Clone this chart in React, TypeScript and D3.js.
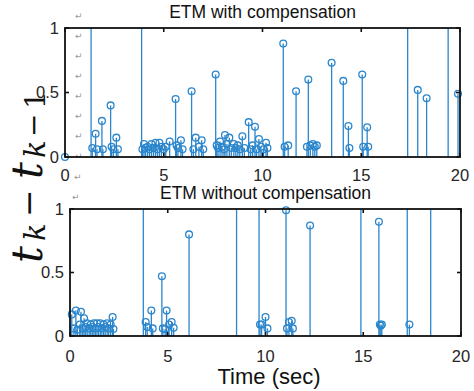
import React from 'react'
import * as d3 from 'd3'

// ETM with compensation: event times (sec) and inter-event intervals
const withT = [0, 1.32, 1.38, 1.55, 1.62, 1.87, 1.92, 2.31, 2.36, 2.45, 2.6, 2.68,
  3.88, 3.92, 4.0, 4.08, 4.18, 4.28, 4.38, 4.48, 4.58, 4.68, 4.78, 4.88, 5.0, 5.1, 5.3,
  5.6, 5.65, 5.72, 5.87, 5.95, 6.41, 6.5, 6.62, 6.78, 6.92, 7.0,
  7.63, 7.68, 7.75, 7.85, 7.95, 8.05, 8.1, 8.2, 8.32, 8.42, 8.55, 8.65, 8.75, 8.85, 8.98,
  9.08, 9.3, 9.4, 9.5, 9.62, 9.7, 9.82, 9.92, 10.05, 10.18, 10.25,
  11.05, 11.12, 11.3, 11.7, 12.25, 12.32, 12.42, 12.55, 12.65, 12.75,
  13.5, 14.09, 14.35, 14.4, 15.05, 15.1, 15.3, 15.35, 17.35, 17.86, 18.31, 19.4, 19.9]
const withV = [0, 1.6, 0.07, 0.18, 0.06, 0.28, 0.06, 0.4, 0.08, 0.06, 0.15, 0.06,
  1.4, 0.06, 0.1, 0.07, 0.08, 0.06, 0.1, 0.07, 0.11, 0.06, 0.11, 0.08, 0.06, 0.08, 0.12,
  0.45, 0.09, 0.07, 0.13, 0.06, 0.51, 0.06, 0.15, 0.08, 0.13, 0.06,
  0.64, 0.09, 0.07, 0.12, 0.08, 0.06, 0.17, 0.1, 0.15, 0.07, 0.1, 0.07, 0.09, 0.06, 0.16,
  0.07, 0.27, 0.06, 0.09, 0.235, 0.06, 0.14, 0.08, 0.06, 0.11, 0.07,
  0.88, 0.08, 0.09, 0.51, 0.08, 0.6, 0.09, 0.1, 0.08, 0.09,
  0.73, 0.59, 0.24, 0.07, 0.64, 0.08, 0.23, 0.08, 1.5, 0.52, 0.455, 1.5, 0.49]

// ETM without compensation
const withoutT = [0.09, 0.2, 0.3, 0.38, 0.5, 0.56, 0.65, 0.72, 0.8, 0.88, 0.98, 1.06,
  1.14, 1.22, 1.3, 1.38, 1.46, 1.55, 1.63, 1.72, 1.8, 1.9, 1.98, 2.08, 2.18, 2.22,
  3.75, 3.87, 3.95, 4.16, 4.23, 4.7, 4.75, 4.87, 4.94, 5.07, 5.2, 5.3, 6.09,
  8.52, 9.67, 9.72, 9.8, 10.0, 10.1, 11.05, 11.1, 11.2, 11.34, 11.4, 12.28,
  14.88, 15.8, 15.85, 15.9, 15.95, 17.25, 17.36, 18.45]
const withoutV = [0.17, 0.06, 0.2, 0.05, 0.09, 0.19, 0.06, 0.14, 0.07, 0.1, 0.06, 0.09,
  0.07, 0.1, 0.06, 0.1, 0.07, 0.1, 0.06, 0.09, 0.07, 0.1, 0.06, 0.09, 0.15, 0.055,
  1.5, 0.11, 0.07, 0.2, 0.06, 0.47, 0.06, 0.055, 0.2, 0.09, 0.11, 0.065, 0.8,
  1.5, 1.5, 0.09, 0.09, 0.15, 0.06, 0.99, 0.06, 0.11, 0.12, 0.06, 0.87,
  1.5, 0.9, 0.09, 0.08, 0.09, 1.5, 0.09, 1.5]

const xTicks = [0, 5, 10, 15, 20]
const yTicks = [0, 0.5, 1]
const yTickLabels = ['0', '0.5', '1']

const stemColor = '#2b86cc'
const font = 'Liberation Sans, Arial, sans-serif'
const mathFont = 'DejaVu Serif, serif'

type PanelProps = {
  title: string
  ts: number[]
  vs: number[]
  left: number
  right: number
  top: number
  bottom: number
  tickY: number
}

function Panel({ title, ts, vs, left, right, top, bottom, tickY }: PanelProps) {
  const x = d3.scaleLinear().domain([0, 20]).range([left, right])
  const y = d3.scaleLinear().domain([0, 1]).range([bottom, top])
  const tl = 4
  return (
    <g>
      <text x={(left + right) / 2} y={top - 10} textAnchor="middle" fontSize={17.5}
        fontFamily={font} fill="#111">{title}</text>
      {ts.map((t, i) => (
        <line key={'s' + i} x1={x(t)} x2={x(t)} y1={y(0)} y2={y(Math.min(vs[i], 1))}
          stroke={stemColor} strokeWidth={1.3} />
      ))}
      {ts.map((t, i) => vs[i] <= 1 ? (
        <circle key={'m' + i} cx={x(t)} cy={y(vs[i])} r={3.4} fill="none"
          stroke={stemColor} strokeWidth={1.3} />
      ) : null)}
      <rect x={left} y={top} width={right - left} height={bottom - top} fill="none"
        stroke="#111" strokeWidth={1.8} />
      {xTicks.map((t) => (
        <g key={'x' + t}>
          <line x1={x(t)} x2={x(t)} y1={top} y2={top + tl} stroke="#111" strokeWidth={1.6} />
          <line x1={x(t)} x2={x(t)} y1={bottom} y2={bottom - tl} stroke="#111" strokeWidth={1.6} />
          <text x={x(t)} y={tickY} textAnchor="middle" fontSize={16.5} fontFamily={font}
            fill="#262626">{t}</text>
        </g>
      ))}
      {yTicks.map((v, i) => (
        <g key={'y' + v}>
          <line x1={left} x2={left + tl} y1={y(v)} y2={y(v)} stroke="#111" strokeWidth={1.6} />
          <line x1={right} x2={right - tl} y1={y(v)} y2={y(v)} stroke="#111" strokeWidth={1.6} />
          <text x={left - 6} y={y(v)} dy="0.35em" textAnchor="end" fontSize={16.5}
            fontFamily={font} fill="#262626">{yTickLabels[i]}</text>
        </g>
      ))}
    </g>
  )
}

// y label t_k - t_{k-1}, drawn piece by piece along the rotated axis
function YLabel() {
  return (
    <g transform="translate(42,263) rotate(-90)" fill="#111" fontFamily={mathFont}>
      <text x={0} y={0} fontSize={42} fontStyle="italic">t</text>
      <text x={22} y={3} fontSize={29} fontStyle="italic">k</text>
      <text x={46} y={-2} fontSize={33}>−</text>
      <text x={84} y={0} fontSize={42} fontStyle="italic">t</text>
      <text x={105} y={3} fontSize={29} fontStyle="italic">k</text>
      <text x={126} y={1} fontSize={28}>−</text>
      <text x={154} y={3} fontSize={28}>1</text>
    </g>
  )
}

export default function App() {
  const returnMarks = d3.range(8).map((i) => 15 + i * 20)
  return (
    <svg width={474} height={391} style={{ position: 'absolute', left: 0, top: 0, background: '#fff' }}>
      <rect width={474} height={391} fill="#fff" />
      {returnMarks.map((yy) => (
        <text key={yy} x={75} y={yy + 4} fontSize={9} fontFamily="DejaVu Sans" fill="#999">↵</text>
      ))}
      <text x={74} y={180} fontSize={9} fontFamily="DejaVu Sans" fill="#999">↵</text>
      <text x={72} y={200} fontSize={9} fontFamily="DejaVu Sans" fill="#999">↵</text>
      <Panel title="ETM with compensation" ts={withT} vs={withV}
        left={65} right={460} top={28} bottom={157} tickY={181} />
      <Panel title="ETM without compensation" ts={withoutT} vs={withoutV}
        left={70} right={461} top={209} bottom={336} tickY={362} />
      <YLabel />
      <text x={269} y={384} textAnchor="middle" fontSize={22} fontFamily={font} fill="#111">Time (sec)</text>
    </svg>
  )
}
